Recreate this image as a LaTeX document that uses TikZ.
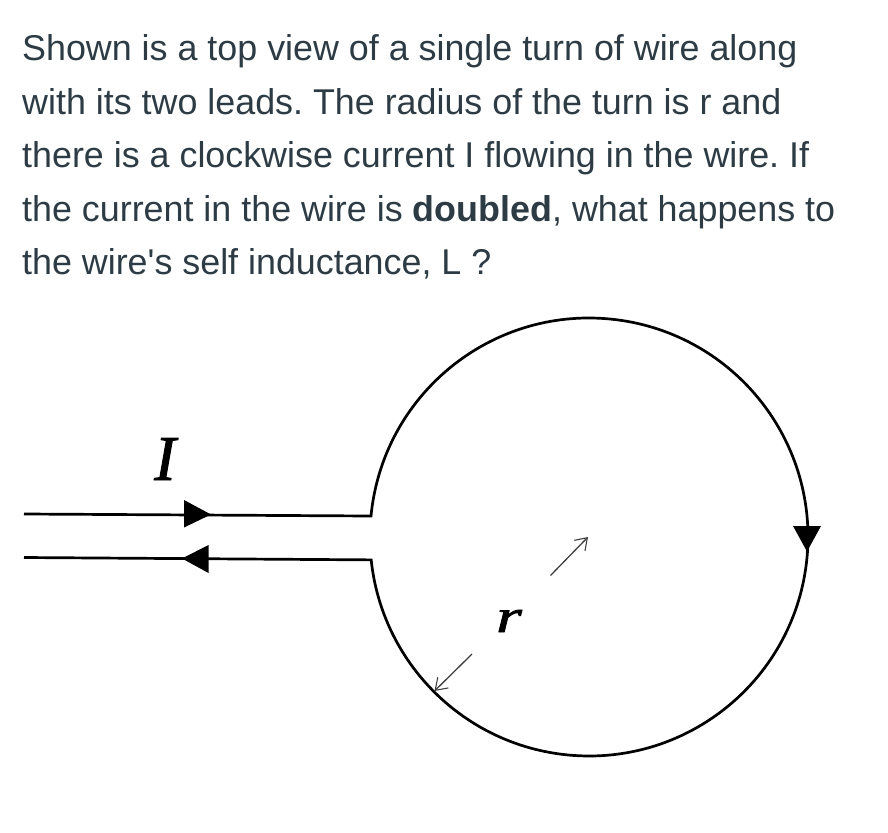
\documentclass[tikz,border=0pt]{standalone}
\usepackage{fontspec}
\newfontfamily\parafont{Liberation Sans}
\newfontfamily\mathfont{Liberation Serif}[ItalicFeatures={FakeBold=1.5}]
\usepackage{tikz}
\usetikzlibrary{arrows.meta}
\definecolor{txt}{HTML}{2D3B45}
\tikzset{
  wire/.style={line width=2.7pt,black,line join=miter},
  para/.style={anchor=base west,inner sep=0pt,text=txt,font=\fontsize{35.85pt}{40pt}\parafont\frenchspacing},
  sym/.style={anchor=base,inner sep=0pt,text=black},
  thinarrow/.style={line width=1.3pt,-{Straight Barb[length=11pt,width=15pt,line width=1.1pt]},black!75},
  tri/.style={fill=black,draw=none}
}
\begin{document}
\begin{tikzpicture}[x=1pt,y=-1pt]
\useasboundingbox (0,0) rectangle (888,832);
\node[para] (l1) at (22,61) {Shown is a top view of a single turn of wire along};
\node[para] (l2) at (22,114.5) {with its two leads. The radius of the turn is r and};
\node[para] (l3) at (22,167.5) {there is a clockwise current I flowing in the wire. If};
\node[para] (l4) at (22,221) {the current in the wire is \textbf{doubled}, what happens to};
\node[para] (l5) at (22,274.5) {the wire's self inductance, L ?};
\coordinate (c) at (589,537);
\coordinate (topL) at (371,516);
\coordinate (botL) at (371,560);
\coordinate (lead1) at (24,514);
\coordinate (lead2) at (24,557.5);
\coordinate (rA) at (550.5,575.5);
\coordinate (rB) at (588,537);
\coordinate (rC) at (472,654);
\coordinate (rD) at (434.5,691);
\draw[wire] (lead1) -- (topL) arc[start angle=185.5,end angle=534,radius=219] -- (lead2);
\fill[tri] (211,514.5) -- (184,500) -- (184,527.5) -- cycle;
\fill[tri] (182,558.5) -- (208.5,545) -- (208.5,573) -- cycle;
\fill[tri] (807,551.5) -- (793,526) -- (821,526) -- cycle;
\node[sym,font=\fontsize{64pt}{64pt}\mathfont\itshape] (I) at (165,480) {I};
\node[sym,font=\fontsize{47pt}{47pt}\mathfont\itshape] (r) at (509,632) {\scalebox{1.4}[1]{r}};
\draw[thinarrow] (rA) -- (rB);
\draw[thinarrow] (rC) -- (rD);
\end{tikzpicture}
\end{document}
